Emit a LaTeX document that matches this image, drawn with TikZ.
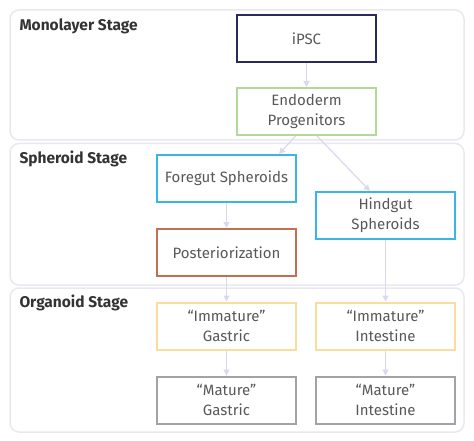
\documentclass[tikz,border=0pt]{standalone}
\usepackage{fontspec}
\setmainfont{Fira Sans}
\usetikzlibrary{arrows.meta}

\definecolor{stageline}{HTML}{E8E8F0}
\definecolor{flowline}{HTML}{D9D9EE}
\definecolor{txtgray}{HTML}{585858}
\definecolor{navy}{HTML}{2B2A5C}
\definecolor{leafgreen}{HTML}{B3D89A}
\definecolor{skyblue}{HTML}{3BB5E3}
\definecolor{rust}{HTML}{C0714F}
\definecolor{sand}{HTML}{F7DE9E}
\definecolor{stone}{HTML}{A3A3A3}

\begin{document}
\begin{tikzpicture}[x=1pt,y=-1pt,font=\fontsize{15}{20}\selectfont]

        % Stili dei blocchi e delle frecce
        \tikzset{
            stagebox/.style={draw=stageline, line width=1.5pt, rounded corners=9pt},
            stagetitle/.style={anchor=west, text=black!80, font=\fontsize{15.5}{18}\selectfont\bfseries},
            cellbox/.style={draw, line width=2pt, minimum width=139pt, minimum height=47pt,
                align=center, text=txtgray, inner sep=2pt},
            flow/.style={draw=flowline, line width=1.2pt, -{Triangle[length=6pt,width=6pt]}}
        }

        % Area complessiva
        \useasboundingbox (0,0) rectangle (474,441);

        % Riquadri delle tre fasi
        \draw[stagebox] (10,10) rectangle (464,140);
        \draw[stagebox] (10,143.5) rectangle (464,285);
        \draw[stagebox] (10,288) rectangle (464,432);

        % Titoli delle fasi
        \node[stagetitle] (monotitle) at (16,26) {Monolayer Stage};
        \node[stagetitle] (spherotitle) at (16,159) {Spheroid Stage};
        \node[stagetitle] (organotitle) at (16,303) {Organoid Stage};

        % Blocchi delle cellule
        \node[cellbox, draw=navy] (ipsc) at (306.5,39) {iPSC};
        \node[cellbox, draw=leafgreen] (endo) at (306.5,111.5) {Endoderm\\Progenitors};
        \node[cellbox, draw=skyblue] (fore) at (226.5,178.5) {Foregut Spheroids};
        \node[cellbox, draw=rust] (post) at (226.5,252.5) {Posteriorization};
        \node[cellbox, draw=skyblue] (hind) at (385.5,215.5) {Hindgut\\Spheroids};
        \node[cellbox, draw=sand] (imgas) at (226.5,326) {“Immature”\\Gastric};
        \node[cellbox, draw=sand] (imint) at (385.5,326) {“Immature”\\Intestine};
        \node[cellbox, draw=stone] (magas) at (226.5,400) {“Mature”\\Gastric};
        \node[cellbox, draw=stone] (maint) at (385.5,400) {“Mature”\\Intestine};

        % Frecce
        \draw[flow] (ipsc) -- (endo);
        \draw[flow] ([xshift=-11pt]endo.south) -- ([xshift=-18pt]fore.north east);
        \draw[flow] ([xshift=10.5pt]endo.south) -- ([xshift=-15.5pt]hind.north);
        \draw[flow] (fore) -- (post);
        \draw[flow] (post) -- (imgas);
        \draw[flow] (hind) -- (imint);
        \draw[flow] (imgas) -- (magas);
        \draw[flow] (imint) -- (maint);

    \end{tikzpicture}
\end{document}
